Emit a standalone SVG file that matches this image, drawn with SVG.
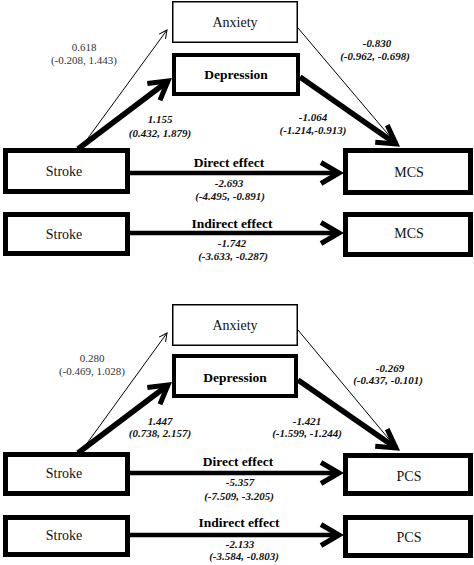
<svg xmlns="http://www.w3.org/2000/svg" width="474" height="565" viewBox="0 0 474 565">
<style>
.bg{fill:#fff}
.thin{fill:#fff;stroke:#000;stroke-width:1.5}
.dep{fill:#fff;stroke:#000;stroke-width:4}
.box{fill:#fff;stroke:#000;stroke-width:5}
.lbl{font-family:"Liberation Serif","Times New Roman",serif;font-size:14px;fill:#111;text-anchor:middle}
.bl{font-family:"Liberation Serif","Times New Roman",serif;font-size:13.5px;font-weight:bold;fill:#000;text-anchor:middle}
.num{font-family:"Liberation Serif","Times New Roman",serif;font-size:11px;fill:#333;text-anchor:middle}
.bi{font-family:"Liberation Serif","Times New Roman",serif;font-size:11px;font-weight:bold;font-style:italic;fill:#111;text-anchor:middle}
.lt{stroke:#000;stroke-width:1;fill:none}
.lk{stroke:#000;stroke-width:5.5;fill:none}
.lh{stroke:#000;stroke-width:4.5;fill:none}
</style>
<defs>
<marker id="big" markerUnits="userSpaceOnUse" viewBox="-5 -5 34 34" markerWidth="34" markerHeight="34" refX="20" refY="12" orient="auto">
<path d="M2,1.5 L20,12 L2,22.5" fill="none" stroke="#000" stroke-width="5"/>
</marker>
<marker id="small" markerUnits="userSpaceOnUse" viewBox="-2 -2 12 12" markerWidth="12" markerHeight="12" refX="8" refY="4" orient="auto">
<path d="M0,0 L8,4 L0,8" fill="none" stroke="#000" stroke-width="1"/>
</marker>
</defs>
<rect class="bg" x="0" y="0" width="474" height="565"/>

<g id="connectors">
<line class="lt" x1="80" y1="149" x2="167" y2="30" marker-end="url(#small)"/>
<line class="lk" x1="78" y1="149" x2="168" y2="81" marker-end="url(#big)"/>
<line class="lt" x1="298" y1="28" x2="398" y2="146"/>
<line class="lk" x1="300" y1="77" x2="396" y2="144" marker-end="url(#big)"/>
<line class="lh" x1="130" y1="173" x2="339" y2="173" marker-end="url(#big)"/>
<line class="lh" x1="130" y1="233" x2="339" y2="233" marker-end="url(#big)"/>
<line class="lt" x1="80" y1="453" x2="167" y2="333" marker-end="url(#small)"/>
<line class="lk" x1="78" y1="453" x2="168" y2="385" marker-end="url(#big)"/>
<line class="lt" x1="298" y1="330" x2="398" y2="450"/>
<line class="lk" x1="298" y1="380" x2="396" y2="448" marker-end="url(#big)"/>
<line class="lh" x1="130" y1="473" x2="339" y2="473" marker-end="url(#big)"/>
<line class="lh" x1="130" y1="535" x2="339" y2="535" marker-end="url(#big)"/>
</g>

<g id="anxiety1"><rect class="thin" x="172.75" y="1.75" width="124.5" height="40.5"/><text class="lbl" x="235" y="27">Anxiety</text></g>
<g id="depression1"><rect class="dep" x="174" y="55" width="124" height="39"/><text class="bl" x="236" y="79">Depression</text></g>
<g id="stroke1"><rect class="box" x="5.5" y="150.5" width="122" height="41"/><text class="lbl" x="64" y="176">Stroke</text></g>
<g id="mcs1"><rect class="box" x="345.5" y="150.5" width="125" height="42"/><text class="lbl" x="409" y="177">MCS</text></g>
<g id="stroke2"><rect class="box" x="5.5" y="214.5" width="122" height="39"/><text class="lbl" x="64" y="239">Stroke</text></g>
<g id="mcs2"><rect class="box" x="345.5" y="214.5" width="125" height="40"/><text class="lbl" x="409" y="238">MCS</text></g>

<g id="anxiety2"><rect class="thin" x="172.75" y="304.75" width="124.5" height="40.5"/><text class="lbl" x="235" y="330">Anxiety</text></g>
<g id="depression2"><rect class="dep" x="174" y="356" width="122" height="40"/><text class="bl" x="235" y="382">Depression</text></g>
<g id="stroke3"><rect class="box" x="5.5" y="454.5" width="122" height="39"/><text class="lbl" x="64" y="478">Stroke</text></g>
<g id="pcs1"><rect class="box" x="345.5" y="455.5" width="125" height="38"/><text class="lbl" x="409" y="481">PCS</text></g>
<g id="stroke4"><rect class="box" x="5.5" y="517.5" width="122" height="37"/><text class="lbl" x="64" y="540">Stroke</text></g>
<g id="pcs2"><rect class="box" x="345.5" y="517.5" width="125" height="38"/><text class="lbl" x="409" y="542">PCS</text></g>

<g id="labels">
<text class="num" x="84" y="51">0.618</text>
<text class="num" x="84" y="64">(-0.208, 1.443)</text>
<text class="bi" x="377" y="47">-0.830</text>
<text class="bi" x="375" y="60">(-0.962, -0.698)</text>
<text class="bi" x="160" y="123">1.155</text>
<text class="bi" x="160" y="137">(0.432, 1.879)</text>
<text class="bi" x="313" y="121">-1.064</text>
<text class="bi" x="313" y="134">(-1.214,-0.913)</text>
<text class="bl" x="229" y="167">Direct effect</text>
<text class="bi" x="229" y="187">-2.693</text>
<text class="bi" x="230" y="200">(-4.495, -0.891)</text>
<text class="bl" x="232" y="228">Indirect effect</text>
<text class="bi" x="232" y="247">-1.742</text>
<text class="bi" x="233" y="260">(-3.633, -0.287)</text>

<text class="num" x="92" y="362">0.280</text>
<text class="num" x="92" y="375">(-0.469, 1.028)</text>
<text class="bi" x="390" y="372">-0.269</text>
<text class="bi" x="388" y="384">(-0.437, -0.101)</text>
<text class="bi" x="160" y="425">1.447</text>
<text class="bi" x="160" y="437">(0.738, 2.157)</text>
<text class="bi" x="307" y="425">-1.421</text>
<text class="bi" x="307" y="437">(-1.599, -1.244)</text>
<text class="bl" x="238" y="466">Direct effect</text>
<text class="bi" x="240" y="486">-5.357</text>
<text class="bi" x="239" y="500">(-7.509, -3.205)</text>
<text class="bl" x="239" y="527">Indirect effect</text>
<text class="bi" x="240" y="548">-2.133</text>
<text class="bi" x="244" y="560">(-3.584, -0.803)</text>
</g>
</svg>
